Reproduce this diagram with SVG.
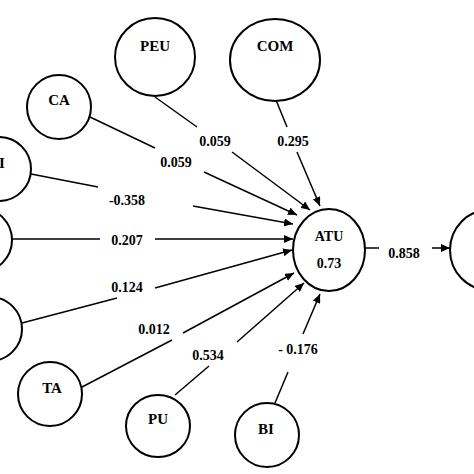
<svg xmlns="http://www.w3.org/2000/svg" width="474" height="474" viewBox="0 0 474 474">
<defs>
<style>
.node{fill:#fff;stroke:#000;stroke-width:2}
.lbl{font-family:"Liberation Serif","Times New Roman",serif;font-weight:bold;font-size:15px;text-anchor:middle;fill:#000}
.num{font-family:"Liberation Serif","Times New Roman",serif;font-weight:bold;font-size:14px;text-anchor:middle;fill:#000}
.ln{stroke:#000;stroke-width:1.5;fill:none}
</style>
<marker id="ah" markerUnits="userSpaceOnUse" markerWidth="10" markerHeight="8" refX="9" refY="4" orient="auto">
<path d="M0,0 L9,4 L0,8 Z" fill="#000"/>
</marker>
</defs>
<rect width="474" height="474" fill="#fff"/>
<g id="connectors">
<line class="ln" x1="155" y1="97" x2="197" y2="127"/>
<line class="ln" x1="232" y1="152" x2="310" y2="210" marker-end="url(#ah)"/>
<text class="num" x="215" y="146">0.059</text>
<line class="ln" x1="276" y1="100" x2="287" y2="127"/>
<line class="ln" x1="297" y1="152" x2="320" y2="206" marker-end="url(#ah)"/>
<text class="num" x="293" y="146">0.295</text>
<line class="ln" x1="90" y1="117" x2="155" y2="148"/>
<line class="ln" x1="204" y1="172" x2="297" y2="215" marker-end="url(#ah)"/>
<text class="num" x="176" y="167">0.059</text>
<line class="ln" x1="31" y1="174" x2="98" y2="187"/>
<line class="ln" x1="193" y1="206" x2="293" y2="224" marker-end="url(#ah)"/>
<text class="num" x="127" y="205">-0.358</text>
<line class="ln" x1="12" y1="239" x2="100" y2="239"/>
<line class="ln" x1="155" y1="239" x2="293" y2="239" marker-end="url(#ah)"/>
<text class="num" x="127" y="245">0.207</text>
<line class="ln" x1="22" y1="323" x2="117" y2="298"/>
<line class="ln" x1="155" y1="288" x2="292" y2="250" marker-end="url(#ah)"/>
<text class="num" x="127" y="292">0.124</text>
<line class="ln" x1="82" y1="387" x2="172" y2="340"/>
<line class="ln" x1="183" y1="333" x2="294" y2="273" marker-end="url(#ah)"/>
<text class="num" x="154" y="334">0.012</text>
<line class="ln" x1="175" y1="395" x2="209" y2="366"/>
<line class="ln" x1="237" y1="342" x2="304" y2="283" marker-end="url(#ah)"/>
<text class="num" x="208" y="360">0.534</text>
<line class="ln" x1="275" y1="403" x2="288" y2="372"/>
<line class="ln" x1="303" y1="334" x2="320" y2="294" marker-end="url(#ah)"/>
<text class="num" x="298" y="354">- 0.176</text>
<line class="ln" x1="365" y1="248" x2="379" y2="248"/>
<line class="ln" x1="432" y1="248" x2="450" y2="248" marker-end="url(#ah)"/>
<text class="num" x="404" y="258">0.858</text>
</g>
<g id="PEU"><ellipse class="node" cx="155" cy="57" rx="40" ry="39"/><text class="lbl" x="155" y="51">PEU</text></g>
<g id="COM"><ellipse class="node" cx="275" cy="60" rx="45" ry="41"/><text class="lbl" x="275" y="51">COM</text></g>
<g id="CA"><ellipse class="node" cx="59" cy="107" rx="32" ry="32"/><text class="lbl" x="59" y="105">CA</text></g>
<g id="I"><ellipse class="node" cx="-1" cy="169" rx="32" ry="32"/><text class="lbl" x="2" y="168">I</text></g>
<g id="N207"><ellipse class="node" cx="-20" cy="240" rx="32" ry="32"/></g>
<g id="N124"><ellipse class="node" cx="-10" cy="329" rx="32" ry="32"/></g>
<g id="TA"><ellipse class="node" cx="50" cy="394" rx="32" ry="32"/><text class="lbl" x="52" y="393">TA</text></g>
<g id="PU"><ellipse class="node" cx="158" cy="426" rx="32" ry="31"/><text class="lbl" x="158" y="424">PU</text></g>
<g id="BI"><ellipse class="node" cx="267" cy="435" rx="32" ry="32"/><text class="lbl" x="266" y="434">BI</text></g>
<g id="ATU"><ellipse class="node" cx="329" cy="250" rx="36" ry="41"/><text class="num" x="329" y="241">ATU</text><text class="num" x="329" y="268">0.73</text></g>
<g id="OUT"><ellipse class="node" cx="489" cy="250" rx="39" ry="40"/></g>
</svg>
